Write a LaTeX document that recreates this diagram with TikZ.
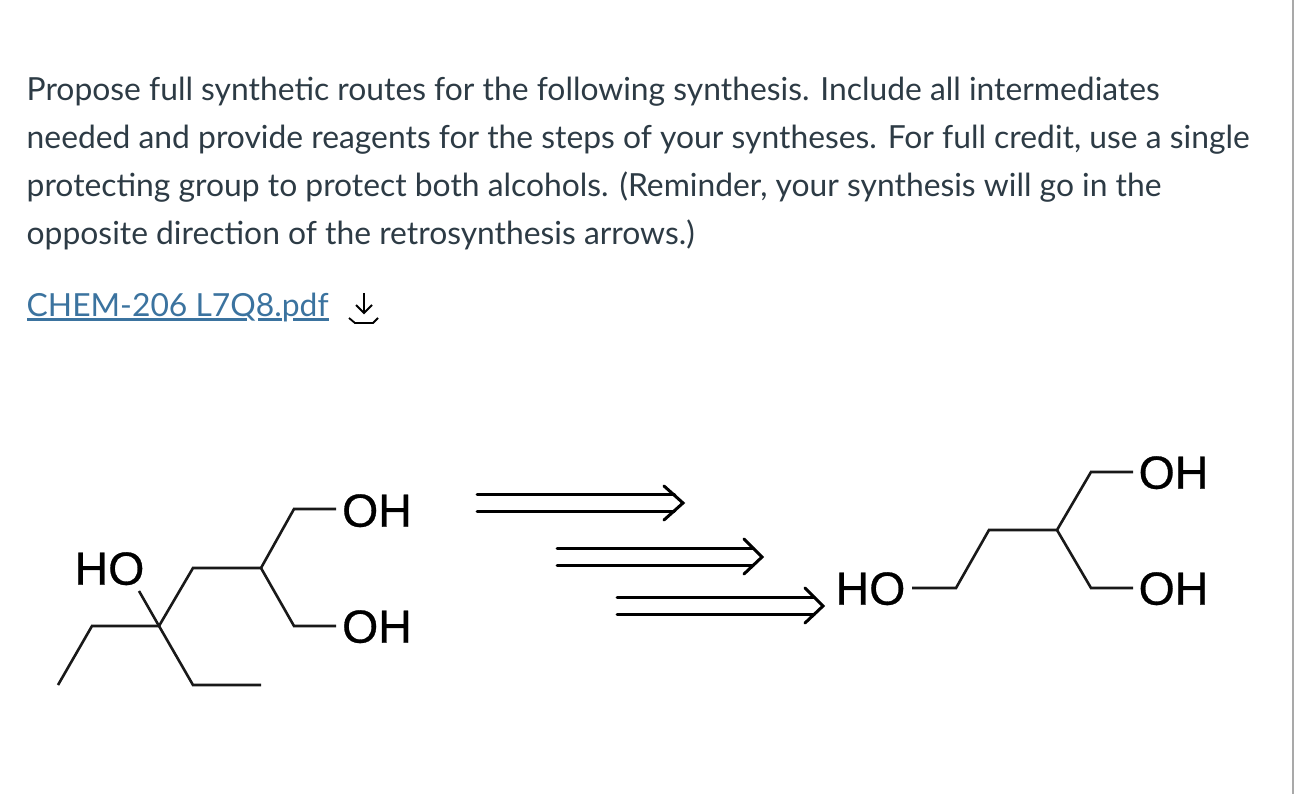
\documentclass[tikz,border=0pt]{standalone}
\usepackage{fontspec}
\setmainfont{Lato}
\newfontfamily\chemfont[FakeBold=0.6]{Liberation Sans}
\definecolor{bodytext}{HTML}{2D3B45}
\definecolor{linkblue}{HTML}{3B739F}
\definecolor{edgegrey}{HTML}{A9A9A9}
\tikzset{
  x=1pt,y=-1pt,
  para/.style={anchor=base west,inner sep=0pt,outer sep=0pt,text=bodytext,font=\fontsize{31.82}{36}\selectfont},
  link/.style={anchor=base west,inner sep=0pt,outer sep=0pt,text=linkblue,font=\fontsize{31.82}{36}\selectfont},
  atom/.style={inner sep=0pt,outer sep=0pt,text=black,font=\chemfont\fontsize{46.5}{50}\selectfont},
  bond/.style={draw=black!90,line width=2.6pt,line join=miter},
  rarrow/.style={draw=black,line width=3pt,line cap=round,line join=miter},
}
\begin{document}
\begin{tikzpicture}
\useasboundingbox (0,0) rectangle (1302,794);
\fill[white] (0,0) rectangle (1302,794);
\coordinate (edgeA) at (1293,0);
\coordinate (edgeB) at (1293,794);
\draw[edgegrey,line width=2pt] (edgeA) -- (edgeB);
\node[para] (l1) at (26.7,100.5) {Propose full synthetic routes for the following synthesis. Include all intermediates};
\node[para] (l2) at (26.7,148.5) {needed and provide reagents for the steps of your syntheses. For full credit, use a single};
\node[para] (l3) at (26.7,196.5) {protecting group to protect both alcohols. (Reminder, your synthesis will go in the};
\node[para] (l4) at (26.7,244.5) {opposite direction of the retrosynthesis arrows.)};
\node[link] (pdf) at (26.7,316.5) {CHEM-206 L7Q8.pdf};
\coordinate (ulA) at (27,319.5);
\coordinate (ulB) at (247,319.5);
\coordinate (ulC) at (258,319.5);
\coordinate (ulD) at (282,319.5);
\coordinate (ulE) at (293,319.5);
\coordinate (ulF) at (329,319.5);
\draw[linkblue,line width=2.4pt] (ulA) -- (ulB);
\draw[linkblue,line width=2.4pt] (ulC) -- (ulD);
\draw[linkblue,line width=2.4pt] (ulE) -- (ulF);
% download icon
\coordinate (dlTop) at (364,293);
\coordinate (dlTip) at (364,313);
\coordinate (dlL) at (356,305);
\coordinate (dlR) at (372,305);
\coordinate (trA) at (349,318);
\coordinate (trB) at (355,323);
\coordinate (trC) at (373,323);
\coordinate (trD) at (378,318);
\draw[black,line width=1.8pt] (dlTop) -- (dlTip);
\draw[black,line width=1.8pt] (dlL) -- (dlTip) -- (dlR);
\draw[black,line width=1.8pt] (trA) -- (trB) -- (trC) -- (trD);
% left molecule
\coordinate (a1) at (58,685);
\coordinate (a2) at (92,626);
\coordinate (a3) at (159,626);
\coordinate (a4) at (193,568);
\coordinate (a5) at (261,568);
\coordinate (a6) at (294,509);
\coordinate (a7) at (336,509);
\coordinate (a8) at (294,626);
\coordinate (a9) at (336,626);
\coordinate (a10) at (193,685);
\coordinate (a11) at (261,685);
\coordinate (a12) at (139,591);
\draw[bond] (a1) -- (a2) -- (a3) -- (a4) -- (a5) -- (a6) -- (a7);
\draw[bond] (a5) -- (a8) -- (a9);
\draw[bond] (a12) -- (a3) -- (a10) -- (a11);
\node[atom] (ho1) at (109.5,568.7) {HO};
\node[atom] (oh1) at (377,510.7) {OH};
\node[atom] (oh2) at (377,626.7) {OH};
% arrows
\coordinate (p1) at (477,494); \coordinate (p2) at (674.5,494);
\coordinate (p3) at (477,511); \coordinate (p4) at (674.5,511);
\coordinate (pa) at (664,486); \coordinate (pt) at (683,503); \coordinate (pb) at (664,520);
\draw[rarrow] (p1) -- (p2); \draw[rarrow] (p3) -- (p4); \draw[rarrow] (pa) -- (pt) -- (pb);
\coordinate (q1) at (557,548); \coordinate (q2) at (753.5,548);
\coordinate (q3) at (557,565); \coordinate (q4) at (753.5,565);
\coordinate (qa) at (744,539); \coordinate (qt) at (762,557); \coordinate (qb) at (744,574);
\draw[rarrow] (q1) -- (q2); \draw[rarrow] (q3) -- (q4); \draw[rarrow] (qa) -- (qt) -- (qb);
\coordinate (r1) at (617,597); \coordinate (r2) at (814.5,597);
\coordinate (r3) at (617,614); \coordinate (r4) at (814.5,614);
\coordinate (ra) at (805,588); \coordinate (rt) at (823,606); \coordinate (rb) at (805,623);
\draw[rarrow] (r1) -- (r2); \draw[rarrow] (r3) -- (r4); \draw[rarrow] (ra) -- (rt) -- (rb);
% right molecule
\coordinate (b1) at (912,588);
\coordinate (b2) at (956,588);
\coordinate (b3) at (989,530);
\coordinate (b4) at (1057,530);
\coordinate (b5) at (1091,472);
\coordinate (b6) at (1133,472);
\coordinate (b7) at (1091,588);
\coordinate (b8) at (1133,588);
\draw[bond] (b1) -- (b2) -- (b3) -- (b4) -- (b5) -- (b6);
\draw[bond] (b4) -- (b7) -- (b8);
\node[atom] (ho2) at (870.5,588.7) {HO};
\node[atom] (oh3) at (1173.5,472.7) {OH};
\node[atom] (oh4) at (1173.5,588.7) {OH};
\end{tikzpicture}
\end{document}
